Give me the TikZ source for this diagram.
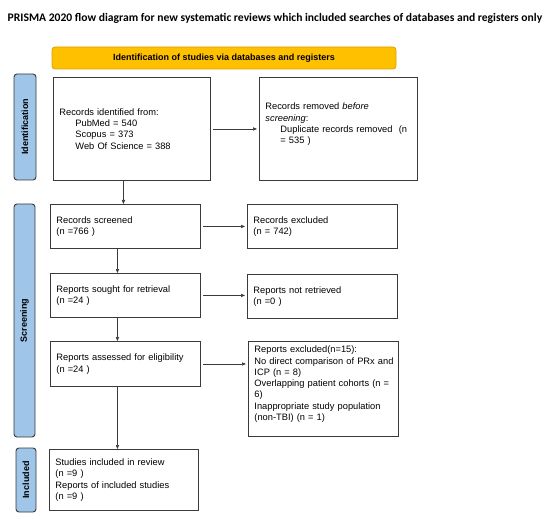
\documentclass[tikz,border=0pt]{standalone}
\usepackage{fontspec}
\setmainfont{Liberation Sans}
\newfontfamily\titlefont{Carlito}
\usetikzlibrary{arrows.meta}

\definecolor{boxline}{HTML}{3A3A3A}
\definecolor{phaseblue}{HTML}{9FC5E8}
\definecolor{headyellow}{HTML}{FFC000}
\definecolor{headedge}{HTML}{D9A300}

\begin{document}
\begin{tikzpicture}[
    x=1pt, % one pixel of the layout
    y=-1pt, % y runs downwards, as in the layout
    box/.style={draw=boxline, line width=0.9pt, fill=white, anchor=north west,
        align=left, inner xsep=6pt, inner ysep=0pt, text width=#1,
        font=\fontsize{9.3}{11.3}\selectfont},
    box/.default=138pt,
    phase/.style={draw=boxline, line width=0.9pt, fill=phaseblue,
        rounded corners=3pt, inner sep=0pt, font=\fontsize{9}{10}\selectfont\bfseries},
    head/.style={draw=headedge, line width=0.8pt, fill=headyellow,
        rounded corners=3pt, inner sep=0pt, font=\fontsize{9}{10}\selectfont\bfseries}
    ]

\useasboundingbox (0,0) rectangle (550,519);

% --- Title and header ---
\node (title) at (275,18) {\titlefont\bfseries\fontsize{11.6}{13}\selectfont PRISMA 2020 flow diagram for new systematic reviews which included searches of databases and registers only};
\node[head, minimum width=344, minimum height=22] (header) at (224,58) {Identification of studies via databases and registers};

% --- Phase bars on the left ---
\node[phase, minimum width=22, minimum height=106] (idbar) at (25,127) {\rotatebox{90}{Identification}};
\node[phase, minimum width=21, minimum height=233] (scbar) at (24.5,320.5) {\rotatebox{90}{Screening}};
\node[phase, minimum width=20, minimum height=64] (inbar) at (26,480) {\rotatebox{90}{Included}};

% --- Left column ---
\node[box=145pt, minimum height=103] (ident) at (53,77) {Records identified from:\\
    \hspace*{16pt}PubMed = 540\\
    \hspace*{16pt}Scopus = 373\\
    \hspace*{16pt}Web Of Science = 388};
\node[box, minimum height=44] (screened) at (50,204) {Records screened\\(n =766 )};
\node[box, minimum height=44] (sought) at (50,273) {Reports sought for retrieval\\(n =24 )};
\node[box, minimum height=45] (assessed) at (50,341) {Reports assessed for eligibility\\(n =24 )};
\node[box=137pt, minimum height=61] (included) at (49,449) {Studies included in review\\(n =9 )\\Reports of included studies\\(n =9 )};

% --- Right column ---
\node[box=146pt, minimum height=103] (removed) at (259,77) {Records removed \textit{before}\\
    \textit{screening}:\\
    \hspace*{15pt}\mbox{Duplicate records removed\ \ (n}\\
    \hspace*{15pt}= 535 )\\
    \mbox{}};
\node[box, minimum height=44] (excluded) at (247,204) {Records excluded\\(n = 742)};
\node[box, minimum height=44] (notretr) at (247,274) {Reports not retrieved\\(n =0 )};
\node[box, minimum height=95] (repexcl) at (248,341) {Reports excluded(n=15):\\
    \mbox{No direct comparison of PRx and}\\
    ICP (n = 8)\\
    \mbox{Overlapping patient cohorts (n =}\\
    6)\\
    Inappropriate study population\\
    (non-TBI) (n = 1)\\
    \mbox{}};

% --- Draw Connections ---
\begin{scope}[boxline, line width=0.6pt, -{Triangle[length=4pt,width=3.2pt]}]
    % down the left column
    \draw ([xshift=-8.5pt]ident.south) -- ([xshift=-8.5pt]ident.south |- screened.north);
    \draw ([xshift=-8pt]screened.south) -- ([xshift=-8pt]sought.north);
    \draw ([xshift=-8pt]sought.south) -- ([xshift=-8pt]assessed.north);
    \draw ([xshift=-8pt]assessed.south) -- ([xshift=-8pt]assessed.south |- included.north);

    % across to the right column
    \begin{scope}[shorten <=2pt, shorten >=2pt]
        \draw (ident.east) -- (ident.east -| removed.west);
        \draw (screened.east) -- (excluded.west);
        \draw (sought.east) -- (sought.east -| notretr.west);
        \draw (assessed.east) -- (assessed.east -| repexcl.west);
    \end{scope}
\end{scope}

\end{tikzpicture}
\end{document}
